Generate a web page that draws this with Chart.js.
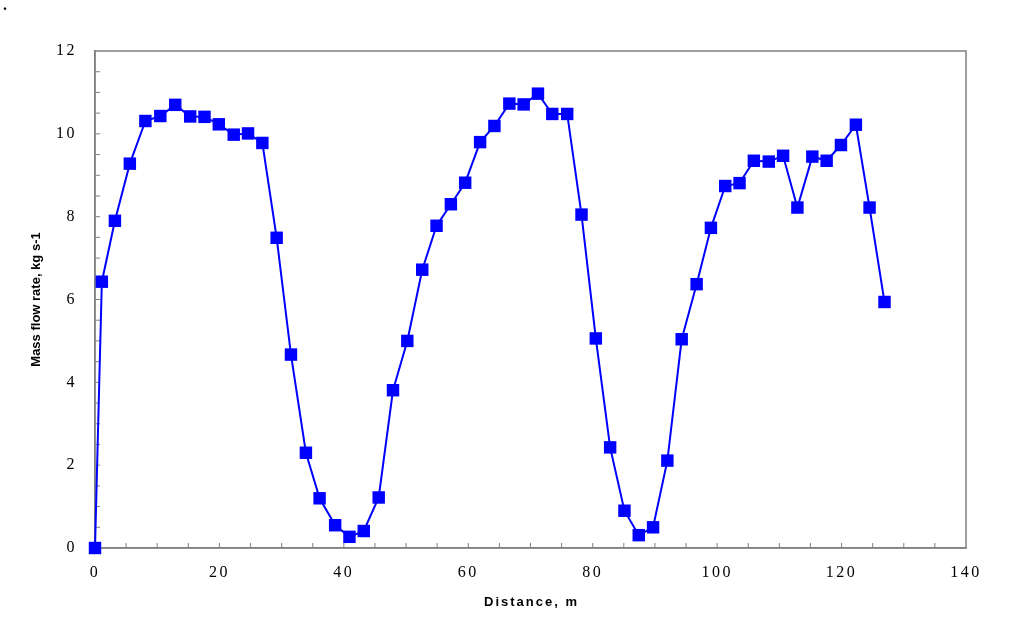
<!DOCTYPE html>
<html>
<head>
<meta charset="utf-8">
<script src="https://cdn.jsdelivr.net/npm/chart.js@4/dist/chart.umd.min.js"></script>
<style>
  body { margin: 0; background: #fff; }
  #wrap { position: relative; width: 1024px; height: 639px; }
</style>
</head>
<body>
<div id="wrap"><canvas id="flowChart"></canvas></div>
<script>
// ========== Data ==========
const distance = [
  0, 1.1, 3.2, 5.6, 8.1, 10.5, 12.9, 15.3, 17.6, 19.9, 22.3, 24.6, 26.9, 29.2,
  31.5, 33.9, 36.1, 38.6, 40.9, 43.2, 45.6, 47.9, 50.2, 52.6, 54.9, 57.2, 59.5,
  61.9, 64.2, 66.6, 68.9, 71.2, 73.5, 75.9, 78.2, 80.5, 82.8, 85.1, 87.4, 89.7,
  92.0, 94.3, 96.7, 99.0, 101.3, 103.6, 105.9, 108.3, 110.6, 112.9, 115.3,
  117.6, 119.9, 122.3, 124.5, 126.9
];
const flowRate = [
  0, 6.43, 7.9, 9.28, 10.31, 10.43, 10.7, 10.42, 10.41, 10.23, 9.98, 10.01, 9.78,
  7.49, 4.67, 2.3, 1.2, 0.55, 0.27, 0.41, 1.22, 3.81, 5.0, 6.72, 7.78, 8.3, 8.82,
  9.8, 10.19, 10.73, 10.71, 10.97, 10.48, 10.48, 8.05, 5.06, 2.43, 0.9, 0.31,
  0.5, 2.11, 5.04, 6.37, 7.73, 8.74, 8.81, 9.35, 9.33, 9.47, 8.22, 9.45, 9.35,
  9.73, 10.22, 8.22, 5.94
];
const xTicks = [0, 20, 40, 60, 80, 100, 120, 140];
const yTicks = [0, 2, 4, 6, 8, 10, 12];
const xTitle = 'Distance, m';
const yTitle = 'Mass flow rate, kg s-1';

const points = distance.map((d, i) => ({ x: d, y: flowRate[i] }));
const axisGray = '#808080';

// ========== Frame, inner ticks and titles ==========
const framePlugin = {
  id: 'frame',
  beforeDraw(chart) {
    chart.ctx.letterSpacing = '2.5px';
  },
  beforeDatasetsDraw(chart) {
    const { ctx, chartArea: a, scales } = chart;
    ctx.save();
    ctx.letterSpacing = '0px';
    ctx.strokeStyle = axisGray;
    ctx.lineWidth = 1.5;
    ctx.strokeRect(a.left, a.top, a.right - a.left, a.bottom - a.top);

    // small ticks pointing inwards
    ctx.lineWidth = 1;
    ctx.beginPath();
    for (let v = 5; v < 140; v += 5) {
      const px = scales.x.getPixelForValue(v);
      ctx.moveTo(px, a.bottom);
      ctx.lineTo(px, a.bottom - 5);
    }
    for (let v = 0.5; v < 12; v += 0.5) {
      const py = scales.y.getPixelForValue(v);
      ctx.moveTo(a.left, py);
      ctx.lineTo(a.left + 5, py);
    }
    ctx.stroke();
    ctx.restore();
  },
  afterDraw(chart) {
    const { ctx, chartArea: a } = chart;
    ctx.save();
    // axis titles
    ctx.fillStyle = '#000';
    ctx.font = 'bold 13px "Liberation Sans", Arial, sans-serif';
    ctx.textAlign = 'center';
    ctx.textBaseline = 'middle';
    ctx.letterSpacing = '2px';
    ctx.fillText(xTitle, (a.left + a.right) / 2 + 1, 602);
    ctx.letterSpacing = '0px';
    ctx.translate(36, (a.top + a.bottom) / 2);
    ctx.rotate(-Math.PI / 2);
    ctx.fillText(yTitle, 0, 0);
    ctx.restore();

    // stray mark in the top corner of the original
    ctx.save();
    ctx.letterSpacing = '0px';
    ctx.fillStyle = '#000';
    ctx.font = 'bold 16px "Liberation Serif", serif';
    ctx.fillText('.', 3, 10);
    ctx.restore();
  }
};

const ctx = document.getElementById('flowChart').getContext('2d');
const flowChart = new Chart(ctx, {
  type: 'scatter',
  data: {
    datasets: [{
      label: 'Mass flow rate',
      data: points,
      showLine: true,
      clip: false,
      borderColor: '#0000ff',
      backgroundColor: '#0000ff',
      borderWidth: 2,
      pointStyle: 'rect',
      pointRadius: 8.8,
      pointHoverRadius: 8.8,
      pointBorderWidth: 0
    }]
  },
  options: {
    responsive: true,
    maintainAspectRatio: false,
    animation: false,
    layout: { padding: { left: 0, top: 51, right: 58, bottom: 0 } },
    plugins: {
      legend: { display: false },
      tooltip: { enabled: false }
    },
    scales: {
      x: {
        type: 'linear',
        min: 0,
        max: 140,
        afterBuildTicks: s => { s.ticks = xTicks.map(v => ({ value: v })); },
        afterFit: s => { s.height = 91; },
        grid: { display: false, drawTicks: false },
        border: { display: true, color: axisGray, width: 1.5 },
        ticks: {
          padding: 15,
          color: '#000',
          font: { family: '"Liberation Serif", "Times New Roman", serif', size: 16 }
        }
      },
      y: {
        type: 'linear',
        min: 0,
        max: 12,
        afterBuildTicks: s => { s.ticks = yTicks.map(v => ({ value: v })); },
        afterFit: s => { s.width = 95; },
        grid: { display: false, drawTicks: false },
        border: { display: true, color: axisGray, width: 1.5 },
        ticks: {
          padding: 18,
          color: '#000',
          font: { family: '"Liberation Serif", "Times New Roman", serif', size: 16 }
        }
      }
    }
  },
  plugins: [framePlugin]
});
</script>
</body>
</html>
